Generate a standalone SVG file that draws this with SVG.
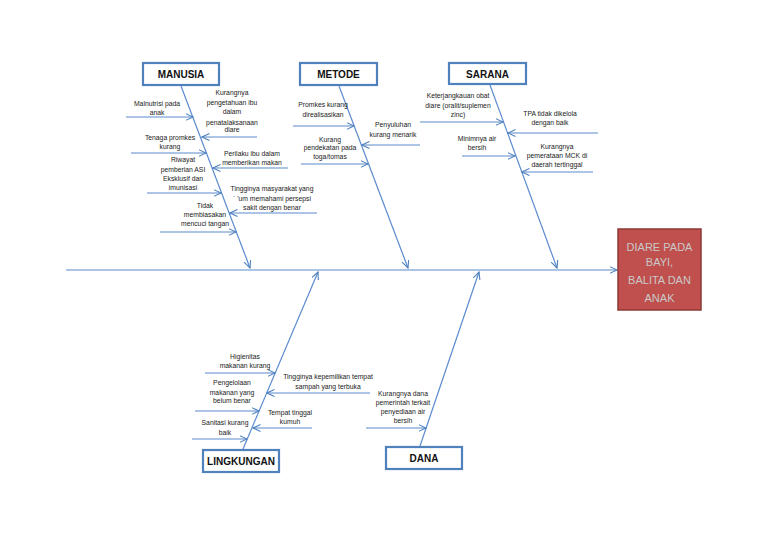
<svg xmlns="http://www.w3.org/2000/svg" width="768" height="543" viewBox="0 0 768 543">
<defs>
<marker id="ah" markerWidth="9" markerHeight="9" refX="7.5" refY="4" orient="auto" markerUnits="userSpaceOnUse">
<path d="M0,0.5 L7.5,4 L0,7.5" fill="none" stroke="#4f81bd" stroke-width="1.1"/>
</marker>
<style>
.ln{stroke:#5b8bd0;stroke-width:1.2;fill:none;marker-end:url(#ah)}
.box{fill:#fff;stroke:#4f81bd;stroke-width:2.2}
.bl{font-family:"Liberation Sans",Arial,sans-serif;font-size:10px;font-weight:bold;fill:#111;text-anchor:middle}
.t{font-family:"Liberation Sans",Arial,sans-serif;font-size:6.8px;fill:#1a1a1a;text-anchor:middle}
.et{font-family:"Liberation Sans",Arial,sans-serif;font-size:11px;fill:#c9c9c9;text-anchor:middle}
</style>
</defs>
<rect width="768" height="543" fill="#fff"/>

<g id="connectors">
<line class="ln" x1="66" y1="270" x2="617" y2="270"/>
<line class="ln" x1="181" y1="86" x2="250" y2="268"/>
<line class="ln" x1="339" y1="86" x2="408" y2="268"/>
<line class="ln" x1="490" y1="85" x2="557" y2="268"/>
<line class="ln" x1="243" y1="449" x2="318" y2="272"/>
<line class="ln" x1="420" y1="446" x2="479" y2="272"/>
<!-- manusia -->
<line class="ln" x1="126" y1="117" x2="193" y2="117"/>
<line class="ln" x1="257" y1="137" x2="202" y2="137"/>
<line class="ln" x1="131" y1="153" x2="206" y2="153"/>
<line class="ln" x1="288" y1="168" x2="213" y2="168"/>
<line class="ln" x1="147" y1="193" x2="221" y2="193"/>
<line class="ln" x1="317" y1="213" x2="230" y2="213"/>
<line class="ln" x1="160" y1="232" x2="236" y2="232"/>
<!-- metode -->
<line class="ln" x1="293" y1="126" x2="354" y2="126"/>
<line class="ln" x1="420" y1="145" x2="362" y2="145"/>
<line class="ln" x1="301" y1="164" x2="368" y2="164"/>
<!-- sarana -->
<line class="ln" x1="420" y1="122" x2="503" y2="122"/>
<line class="ln" x1="598" y1="133" x2="508" y2="133"/>
<line class="ln" x1="462" y1="156" x2="515" y2="156"/>
<line class="ln" x1="593" y1="172" x2="522" y2="172"/>
<!-- lingkungan -->
<line class="ln" x1="205" y1="373" x2="275" y2="373"/>
<line class="ln" x1="370" y1="393" x2="267" y2="393"/>
<line class="ln" x1="195" y1="411" x2="259" y2="411"/>
<line class="ln" x1="312" y1="428" x2="253" y2="428"/>
<line class="ln" x1="192" y1="439" x2="247" y2="439"/>
<!-- dana -->
<line class="ln" x1="366" y1="428" x2="426" y2="428"/>
</g>

<g id="effect">
<rect x="618" y="229" width="83" height="81" fill="#c0504d" stroke="#8c3836" stroke-width="1.5"/>
<text class="et" x="659.5" y="251">DIARE PADA</text>
<text class="et" x="659.5" y="266">BAYI,</text>
<text class="et" x="659.5" y="284">BALITA DAN</text>
<text class="et" x="659.5" y="302">ANAK</text>
</g>

<g id="manusia">
<rect class="box" x="143" y="63" width="76" height="22"/>
<text class="bl" x="181" y="78">MANUSIA</text>
</g>
<g id="metode">
<rect class="box" x="300" y="63" width="77" height="22"/>
<text class="bl" x="338.5" y="78">METODE</text>
</g>
<g id="sarana">
<rect class="box" x="449" y="63" width="77" height="21"/>
<text class="bl" x="487.5" y="77.5">SARANA</text>
</g>
<g id="lingkungan">
<rect class="box" x="203" y="450" width="76" height="22"/>
<text class="bl" x="241" y="465">LINGKUNGAN</text>
</g>
<g id="dana">
<rect class="box" x="386" y="447" width="76" height="22"/>
<text class="bl" x="424" y="462">DANA</text>
</g>

<g id="c-malnutrisi"><text class="t" x="157" y="106">Malnutrisi pada</text><text class="t" x="157" y="115">anak</text></g>
<g id="c-kurangnya-pengetahuan"><text class="t" x="232" y="95">Kurangnya</text><text class="t" x="232" y="105">pengetahuan ibu</text><text class="t" x="232" y="114">dalam</text><text class="t" x="232" y="125">penatalaksanaan</text><text class="t" x="232" y="132">diare</text></g>
<g id="c-tenaga"><text class="t" x="170" y="140">Tenaga promkes</text><text class="t" x="170" y="149">kurang</text></g>
<g id="c-perilaku"><text class="t" x="252" y="156">Perilaku ibu dalam</text><text class="t" x="252" y="165">memberikan makan</text></g>
<g id="c-riwayat"><text class="t" x="183" y="162">Riwayat</text><text class="t" x="183" y="172">pemberian ASI</text><text class="t" x="183" y="181">Eksklusif dan</text><text class="t" x="183" y="190">imunisasi</text></g>
<g id="c-tingginya-masyarakat"><text class="t" x="272" y="191">Tingginya masyarakat yang</text><text class="t" x="272" y="201">` 'um memahami persepsi</text><text class="t" x="272" y="210">sakit dengan benar</text></g>
<g id="c-tidak"><text class="t" x="205" y="208">Tidak</text><text class="t" x="205" y="217">membiasakan</text><text class="t" x="205" y="226">mencuci tangan</text></g>

<g id="c-promkes"><text class="t" x="323" y="107">Promkes kurang</text><text class="t" x="323" y="117">direalisasikan</text></g>
<g id="c-penyuluhan"><text class="t" x="393" y="127">Penyuluhan</text><text class="t" x="393" y="137">kurang menarik</text></g>
<g id="c-pendekatan"><text class="t" x="330" y="142">Kurang</text><text class="t" x="330" y="150">pendekatan pada</text><text class="t" x="330" y="159">toga/tomas</text></g>

<g id="c-keterjangkauan"><text class="t" x="458" y="98">Keterjangkauan obat</text><text class="t" x="458" y="108">diare (oralit/suplemen</text><text class="t" x="458" y="117">zinc)</text></g>
<g id="c-tpa"><text class="t" x="550" y="116">TPA tidak dikelola</text><text class="t" x="550" y="125">dengan baik</text></g>
<g id="c-minimnya"><text class="t" x="477" y="141">Minimnya air</text><text class="t" x="477" y="150">bersih</text></g>
<g id="c-mck"><text class="t" x="557" y="149">Kurangnya</text><text class="t" x="557" y="158">pemerataan MCK di</text><text class="t" x="557" y="167">daerah tertinggal</text></g>

<g id="c-higienitas"><text class="t" x="245" y="359">Higienitas</text><text class="t" x="245" y="368">makanan kurang</text></g>
<g id="c-sampah"><text class="t" x="328" y="379">Tingginya kepemilikan tempat</text><text class="t" x="328" y="389">sampah yang terbuka</text></g>
<g id="c-pengelolaan"><text class="t" x="232" y="385">Pengelolaan</text><text class="t" x="232" y="395">makanan yang</text><text class="t" x="232" y="403">belum benar</text></g>
<g id="c-tempat"><text class="t" x="290" y="415">Tempat tinggal</text><text class="t" x="290" y="424">kumuh</text></g>
<g id="c-sanitasi"><text class="t" x="225" y="425">Sanitasi kurang</text><text class="t" x="225" y="435">baik</text></g>

<g id="c-dana"><text class="t" x="403" y="396">Kurangnya dana</text><text class="t" x="403" y="405">pemerintah terkait</text><text class="t" x="403" y="414">penyediaan air</text><text class="t" x="403" y="423">bersih</text></g>
</svg>
